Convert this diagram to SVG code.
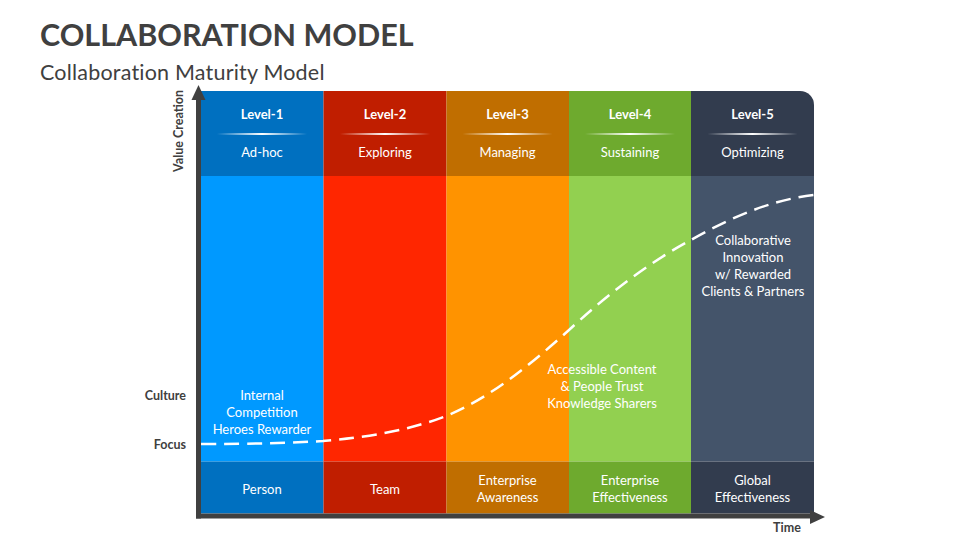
<svg xmlns="http://www.w3.org/2000/svg" width="960" height="540" viewBox="0 0 960 540">
<defs>
<linearGradient id="sep" x1="0" y1="0" x2="1" y2="0">
<stop offset="0" stop-color="#fff" stop-opacity="0"/>
<stop offset="0.5" stop-color="#fff" stop-opacity="1"/>
<stop offset="1" stop-color="#fff" stop-opacity="0"/>
</linearGradient>
<style>
text{font-family:Lato,"Open Sans","Liberation Sans",sans-serif;}
.w{fill:#fff;font-size:13px;text-anchor:middle;}
.b{font-weight:bold;}
.ax{fill:#404040;font-size:12.5px;font-weight:bold;}
.sep{fill:url(#sep);}
</style>
</defs>
<rect width="960" height="540" fill="#fff"/>
<text x="40" y="46" font-size="30.5" font-weight="bold" fill="#404040">COLLABORATION MODEL</text>
<text x="40" y="80" font-size="21.5" letter-spacing="0.2" fill="#404040">Collaboration Maturity Model</text>

<g id="level1">
<rect x="201" y="91" width="122.5" height="85" fill="#0070C0"/>
<rect x="201" y="176" width="122.5" height="285.5" fill="#0099FF"/>
<rect x="201" y="461.5" width="122.5" height="52" fill="#0070C0"/>
<text class="w b" x="262" y="119">Level-1</text>
<rect class="sep" x="217" y="133" width="90" height="2"/>
<text class="w" x="262" y="157">Ad-hoc</text>
<text class="w" x="262" y="400">Internal</text>
<text class="w" x="262" y="417">Competition</text>
<text class="w" x="262" y="434">Heroes Rewarder</text>
<text class="w" x="262" y="494">Person</text>
</g>
<g id="level2">
<rect x="323.5" y="91" width="123" height="85" fill="#C01E00"/>
<rect x="323.5" y="176" width="123" height="285.5" fill="#FF2600"/>
<rect x="323.5" y="461.5" width="123" height="52" fill="#C01E00"/>
<text class="w b" x="385" y="119">Level-2</text>
<rect class="sep" x="340" y="133" width="90" height="2"/>
<text class="w" x="385" y="157">Exploring</text>
<text class="w" x="385" y="494">Team</text>
</g>
<g id="level3">
<rect x="446.5" y="91" width="122.5" height="85" fill="#C06E00"/>
<rect x="446.5" y="176" width="122.5" height="285.5" fill="#FF9300"/>
<rect x="446.5" y="461.5" width="122.5" height="52" fill="#C06E00"/>
<text class="w b" x="507.5" y="119">Level-3</text>
<rect class="sep" x="462.5" y="133" width="90" height="2"/>
<text class="w" x="507.5" y="157">Managing</text>
<text class="w" x="507.5" y="485">Enterprise</text>
<text class="w" x="507.5" y="502">Awareness</text>
</g>
<g id="level4">
<rect x="569" y="91" width="122" height="85" fill="#6EAA2E"/>
<rect x="569" y="176" width="122" height="285.5" fill="#92D050"/>
<rect x="569" y="461.5" width="122" height="52" fill="#6EAA2E"/>
<text class="w b" x="630" y="119">Level-4</text>
<rect class="sep" x="585" y="133" width="90" height="2"/>
<text class="w" x="630" y="157">Sustaining</text>
<text class="w" x="630" y="485">Enterprise</text>
<text class="w" x="630" y="502">Effectiveness</text>
</g>
<g id="level5">
<path d="M691,91 H800 A14,14 0 0 1 814,105 V176 H691 Z" fill="#323C4E"/>
<rect x="691" y="176" width="123" height="285.5" fill="#44546A"/>
<rect x="691" y="461.5" width="123" height="52" fill="#323C4E"/>
<text class="w b" x="752.5" y="119">Level-5</text>
<rect class="sep" x="707.5" y="133" width="90" height="2"/>
<text class="w" x="752.5" y="157">Optimizing</text>
<text class="w" x="752.5" y="485">Global</text>
<text class="w" x="752.5" y="502">Effectiveness</text>
</g>

<g id="connectors">
<path d="M201,444 C260,444 290,443 323,441 C370,437 410,430 446,416 C490,398 530,365 569,330 C610,292 650,262 691,240 C730,218 770,200 814,195" fill="none" stroke="#fff" stroke-width="2.5" stroke-dasharray="15,8"/>
</g>

<g id="labels">
<text class="w" x="602" y="374">Accessible Content</text>
<text class="w" x="602" y="391">&amp; People Trust</text>
<text class="w" x="602" y="408">Knowledge Sharers</text>
<text class="w" x="753" y="245">Collaborative</text>
<text class="w" x="753" y="262">Innovation</text>
<text class="w" x="753" y="279">w/ Rewarded</text>
<text class="w" x="753" y="296">Clients &amp; Partners</text>
</g>

<g id="axes">
<line x1="198.5" y1="97" x2="198.5" y2="518.5" stroke="#404040" stroke-width="5"/>
<polygon points="198.5,85 191.5,100 205.5,100" fill="#404040"/>
<line x1="196" y1="516" x2="812" y2="516" stroke="#404040" stroke-width="5"/>
<polygon points="825,517 810,510 810,524" fill="#404040"/>
<text class="ax" x="186" y="400" text-anchor="end">Culture</text>
<text class="ax" x="186" y="448.5" text-anchor="end">Focus</text>
<text class="ax" transform="translate(182.5,131) rotate(-90)" text-anchor="middle">Value Creation</text>
<text class="ax" x="787" y="531.5" text-anchor="middle">Time</text>
</g>
</svg>
